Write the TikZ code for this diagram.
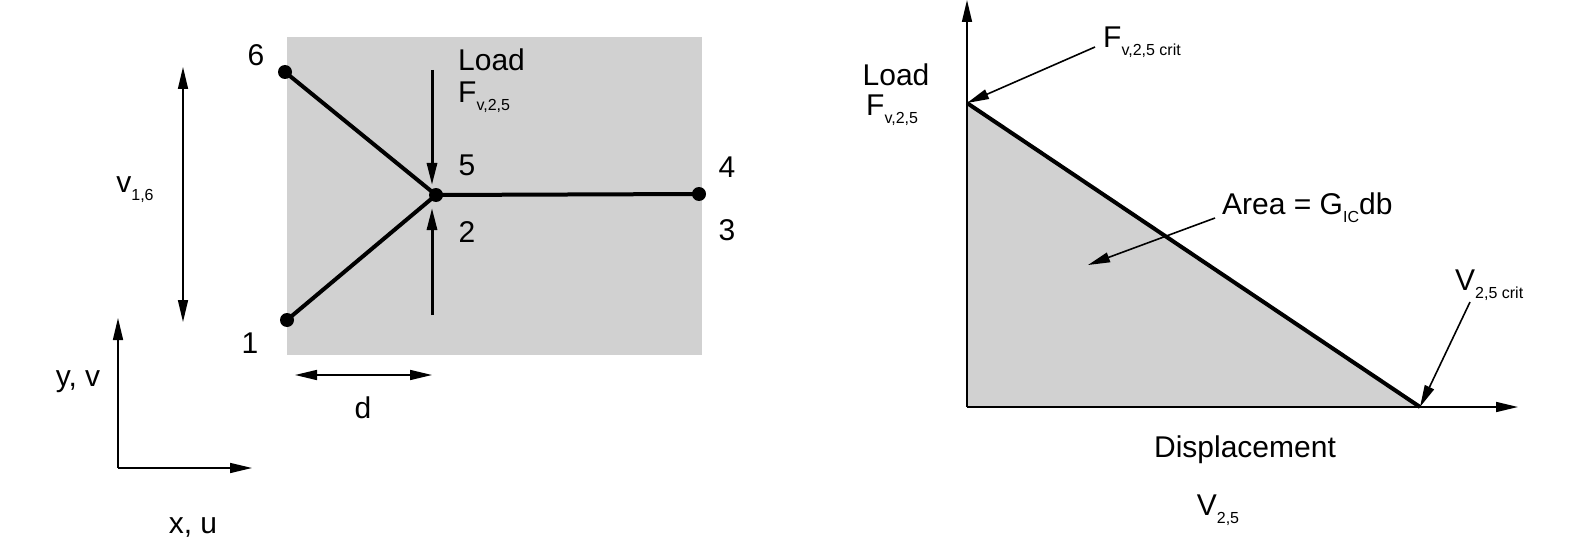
\documentclass[tikz,border=0pt]{standalone}
\usepackage{fontspec}
\setmainfont{Liberation Sans}
\usetikzlibrary{arrows.meta}
\begin{document}
\begin{tikzpicture}[x=1pt,y=-1pt,
  lbl/.style={font=\fontsize{30}{32}\selectfont,inner sep=0},
  arr/.style={line width=1.6pt,-{Triangle[length=22pt,width=10pt]}},
  darr/.style={line width=1.6pt,{Triangle[length=22pt,width=10pt]}-{Triangle[length=22pt,width=10pt]}},
  thk/.style={line width=4pt},
  dot/.style={circle,fill,inner sep=0,minimum size=14pt}]
\useasboundingbox (0,0) rectangle (1585,559);
\fill[black!18] (287,37) rectangle (702,355);
\node[dot] (n6) at (285,72) {};
\node[dot] (n5) at (436,195) {};
\node[dot] (n4) at (699,194) {};
\node[dot] (n1) at (287,320) {};
\draw[thk] (n6.center)--(n5.center)--(n4.center);
\draw[thk] (n1.center)--(n5.center);
\coordinate (la) at (432,70); \coordinate (lb) at (432,185);
\coordinate (ua) at (432,315); \coordinate (ub) at (432,208);
\draw[arr,line width=3pt] (la)--(lb);
\draw[arr,line width=3pt] (ua)--(ub);
\node[lbl] (t6) at (256,55) {6};
\node[lbl,anchor=west] (tl) at (458,60) {Load};
\node[lbl,anchor=west] (tf) at (458,97) {F\raisebox{-8pt}{\fontsize{16}{16}\selectfont v,2,5}};
\node[lbl] (t5) at (467,165) {5};
\node[lbl] (t2) at (467,232) {2};
\node[lbl] (t4) at (727,167) {4};
\node[lbl] (t3) at (727,230) {3};
\node[lbl] (t1) at (250,343) {1};
\node[lbl] (tv) at (135,190) {v\raisebox{-8pt}{\fontsize{16}{16}\selectfont 1,6}};
\coordinate (va) at (183,67); \coordinate (vb) at (183,322);
\draw[darr] (va)--(vb);
\coordinate (da) at (295,375); \coordinate (db) at (432,375);
\draw[darr] (da)--(db);
\node[lbl] (td) at (363,408) {d};
\coordinate (o) at (118,468); \coordinate (yy) at (118,318); \coordinate (xx) at (252,468);
\draw[arr] (o)--(yy); \draw[arr] (o)--(xx);
\node[lbl] (tyv) at (78,382) {y, v};
\node[lbl] (txu) at (193,527) {x, u};
% right
\coordinate (O) at (967,407); \coordinate (Y) at (967,0); \coordinate (X) at (1518,407);
\coordinate (P) at (967,103); \coordinate (Q) at (1420,407);
\fill[black!18] (P)--(Q)--(O)--cycle;
\draw[arr] (O)--(Y); \draw[arr] (O)--(X);
\draw[thk] (P)--(Q);
\node[lbl] (rl) at (896,75) {Load};
\node[lbl,anchor=west] (rf) at (866,110) {F\raisebox{-8pt}{\fontsize{16}{16}\selectfont v,2,5}};
\node[lbl,anchor=west] (fc) at (1103,42) {F\raisebox{-8pt}{\fontsize{16}{16}\selectfont v,2,5 crit}};
\draw[arr] (fc.west)++(-8,5) coordinate (fa) -- (P);
\node[lbl,anchor=west] (ar) at (1222,208) {Area = G\raisebox{-8pt}{\fontsize{16}{16}\selectfont IC}db};
\coordinate (aa) at (1215,218); \coordinate (ab) at (1088,265);
\draw[arr] (aa)--(ab);
\node[lbl,anchor=west] (vc) at (1455,285) {V\raisebox{-8pt}{\fontsize{16}{16}\selectfont 2,5 crit}};
\coordinate (ca) at (1470,302);
\draw[arr] (ca)--(Q);
\node[lbl] (dsp) at (1245,450) {Displacement};
\node[lbl] (v25) at (1218,510) {V\raisebox{-8pt}{\fontsize{16}{16}\selectfont 2,5}};
\end{tikzpicture}
\end{document}
